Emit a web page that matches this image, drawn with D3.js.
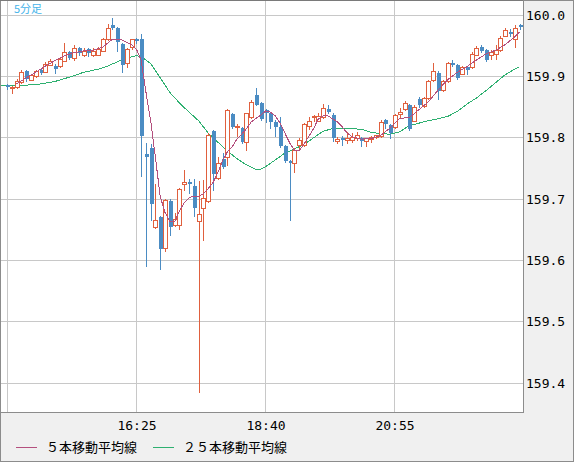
<!DOCTYPE html>
<html>
<head>
<meta charset="utf-8">
<script src="https://cdn.jsdelivr.net/npm/d3@7"></script>
<style>
  body { margin: 0; background: #f0f0f0; }
  svg { display: block; }
</style>
</head>
<body>
<div id="chart"></div>
<script>
// 5分足 USD/JPY style candles, one entry per bar (bar 0 = 14:10)
const openVals = [159.886,159.881,159.883,159.891,159.909,159.895,159.901,159.911,159.908,159.919,
  159.918,159.917,159.926,159.940,159.930,159.947,159.936,159.945,159.936,159.936,
  159.942,159.961,159.984,159.980,159.953,159.922,159.948,159.962,159.962,159.773,
  159.784,159.654,159.671,159.620,159.697,159.658,159.658,159.725,159.728,159.722,
  159.664,159.686,159.697,159.812,159.734,159.766,159.768,159.839,159.817,159.816,
  159.793,159.834,159.870,159.857,159.846,159.840,159.826,159.818,159.787,159.763,
  159.759,159.788,159.789,159.820,159.834,159.828,159.834,159.847,159.838,159.795,
  159.799,159.797,159.797,159.800,159.800,159.795,159.798,159.801,159.803,159.829,
  159.821,159.817,159.839,159.847,159.853,159.828,159.864,159.852,159.865,159.895,
  159.906,159.878,159.892,159.922,159.919,159.905,159.915,159.915,159.936,159.948,
  159.943,159.935,159.937,159.943,159.967,159.973,159.962,159.984];
const highVals = [159.888,159.885,159.896,159.910,159.911,159.904,159.911,159.913,159.923,159.929,
  159.921,159.932,159.954,159.942,159.951,159.949,159.947,159.947,159.947,159.948,
  159.963,159.986,159.996,159.981,159.954,159.946,159.962,159.963,159.970,159.791,
  159.790,159.725,159.673,159.701,159.701,159.678,159.718,159.748,159.733,159.733,
  159.730,159.731,159.808,159.813,159.768,159.775,159.847,159.841,159.823,159.818,
  159.841,159.862,159.881,159.859,159.847,159.842,159.829,159.834,159.788,159.764,
  159.784,159.799,159.824,159.834,159.837,159.840,159.855,159.854,159.841,159.802,
  159.803,159.809,159.808,159.809,159.802,159.800,159.803,159.805,159.829,159.831,
  159.823,159.839,159.849,159.860,159.855,159.854,159.866,159.867,159.895,159.922,
  159.909,159.895,159.924,159.927,159.921,159.917,159.917,159.940,159.950,159.952,
  159.945,159.943,159.952,159.967,159.980,159.977,159.984,159.985];
const lowVals = [159.880,159.873,159.882,159.890,159.893,159.894,159.900,159.905,159.907,159.919,
  159.906,159.916,159.925,159.928,159.927,159.935,159.934,159.933,159.934,159.935,
  159.941,159.960,159.978,159.942,159.908,159.916,159.945,159.954,159.737,159.591,
  159.666,159.653,159.586,159.615,159.642,159.656,159.651,159.715,159.710,159.672,
  159.386,159.634,159.696,159.715,159.733,159.751,159.755,159.816,159.803,159.792,
  159.780,159.833,159.853,159.829,159.826,159.816,159.803,159.785,159.761,159.666,
  159.745,159.784,159.787,159.815,159.827,159.827,159.833,159.840,159.795,159.791,
  159.788,159.792,159.793,159.796,159.787,159.787,159.793,159.800,159.802,159.816,
  159.799,159.816,159.834,159.846,159.813,159.828,159.850,159.850,159.864,159.893,
  159.864,159.877,159.891,159.917,159.896,159.904,159.905,159.914,159.935,159.940,
  159.926,159.929,159.929,159.942,159.966,159.967,159.949,159.978];
const closeVals = [159.883,159.883,159.892,159.908,159.896,159.902,159.909,159.906,159.921,159.925,
  159.913,159.929,159.940,159.930,159.946,159.938,159.942,159.938,159.942,159.945,
  159.961,159.980,159.979,159.957,159.919,159.945,159.961,159.959,159.803,159.768,
  159.692,159.666,159.618,159.698,159.654,159.668,159.716,159.728,159.725,159.685,
  159.676,159.702,159.805,159.741,159.759,159.753,159.846,159.817,159.820,159.793,
  159.840,159.859,159.854,159.830,159.840,159.826,159.817,159.787,159.762,159.761,
  159.781,159.796,159.822,159.827,159.836,159.836,159.848,159.842,159.799,159.798,
  159.796,159.799,159.801,159.804,159.795,159.799,159.802,159.804,159.826,159.822,
  159.808,159.837,159.843,159.857,159.814,159.851,159.853,159.865,159.893,159.909,
  159.876,159.892,159.922,159.919,159.898,159.915,159.911,159.937,159.947,159.941,
  159.927,159.940,159.943,159.963,159.976,159.971,159.980,159.981];

// moving averages: bar index + value
const ma5Bars = [2,4,6,8,10,12,14,16,18,20,22,24,26,27,28,29,30,31,32,33,34,35,36,37,38,39,40,41,42,43,44,45,46,47,48,49,50,51,52,53,54,55,56,57,58,59,60,61,62,63,64,65,66,67,68,69,70,71,72,74,76,78,80,82,84,86,88,90,92,94,96,98,100,102,104,106,107];
const ma5Vals = [159.888,159.898,159.907,159.917,159.926,159.934,159.939,159.942,159.943,159.948,159.961,159.960,159.952,159.945,159.927,159.875,159.828,159.767,159.704,159.678,159.664,159.663,159.681,159.694,159.702,159.705,159.704,159.709,159.717,159.727,159.743,159.762,159.777,159.785,159.798,159.806,159.815,159.826,159.832,159.837,159.844,159.842,159.836,159.824,159.808,159.792,159.780,159.779,159.790,159.802,159.815,159.831,159.836,159.836,159.831,159.826,159.818,159.808,159.802,159.798,159.799,159.804,159.816,159.832,159.833,159.846,159.859,159.878,159.895,159.907,159.916,159.927,159.937,159.943,159.952,159.965,159.973];
const ma25Bars = [-1.5,4,7,10,13,16,19,21,23,25,27,28,29,30,32,34,36,38,40,42,44,46,48,50,52,53,54,56,58,60,62,64,66,68,70,72,74,76,78,80,82,84,86,88,90,92,94,96,98,100,102,104,106,107];
const ma25Vals = [159.886,159.886,159.888,159.892,159.899,159.907,159.912,159.917,159.924,159.930,159.934,159.933,159.927,159.921,159.898,159.874,159.857,159.842,159.828,159.808,159.793,159.779,159.766,159.756,159.748,159.749,159.753,159.764,159.775,159.782,159.789,159.800,159.811,159.815,159.816,159.815,159.814,159.809,159.807,159.806,159.810,159.820,159.824,159.828,159.831,159.835,159.843,159.855,159.865,159.877,159.890,159.903,159.912,159.916];

const priceTicks = [159.4, 159.5, 159.6, 159.7, 159.8, 159.9, 160.0];
const timeTickBars = [0, 27, 54, 81];
const timeTickLabels = ["14:10", "16:25", "18:40", "20:55"];
const legendNames = ["５本移動平均線", "２５本移動平均線"];

const W = 574, H = 462;
const plotR = 523, plotB = 412;
const upColor = "#e0603e", downColor = "#4b8cc3";
const ma5Color = "#b4507e", ma25Color = "#2eb070";

const svg = d3.select("#chart").append("svg")
  .attr("width", W).attr("height", H);

svg.append("rect").attr("width", W).attr("height", H).attr("fill", "#f0f0f0");
svg.append("rect").attr("x", 1).attr("y", 1).attr("width", plotR - 1).attr("height", plotB - 1)
  .attr("fill", "#fff");

const x = d3.scaleLinear().domain([0, 107]).range([7, 519.5]);
const y = d3.scaleLinear().domain([159.4, 160.0]).range([383, 15.3]);

svg.append("defs").append("clipPath").attr("id", "plotclip")
  .append("rect").attr("x", 1).attr("y", 1).attr("width", plotR - 1).attr("height", plotB - 1);

// grid
const grid = svg.append("g").attr("stroke", "#c8c8c8").attr("stroke-width", 1);
grid.selectAll(".hg").data(priceTicks).enter().append("line")
  .attr("x1", 1).attr("x2", plotR)
  .attr("y1", d => Math.floor(y(d)) + 0.5).attr("y2", d => Math.floor(y(d)) + 0.5);
grid.selectAll(".vg").data(timeTickBars).enter().append("line")
  .attr("y1", 1).attr("y2", plotB)
  .attr("x1", d => Math.floor(x(d)) + 0.5).attr("x2", d => Math.floor(x(d)) + 0.5);

const plot = svg.append("g").attr("clip-path", "url(#plotclip)");

// moving averages (drawn under candles)
const line = d3.line().x(d => x(d[0])).y(d => y(d[1]));
plot.append("path").datum(d3.zip(ma25Bars, ma25Vals))
  .attr("d", line).attr("fill", "none").attr("stroke", ma25Color).attr("stroke-width", 1)
  .attr("shape-rendering", "crispEdges");

// candles
const bars = d3.range(openVals.length).map(i => ({
  i: i, o: openVals[i], h: highVals[i], l: lowVals[i], c: closeVals[i]
}));

const candle = plot.selectAll(".candle").data(bars).enter().append("g");
candle.append("line")
  .attr("x1", d => Math.round(x(d.i)) + 0.5).attr("x2", d => Math.round(x(d.i)) + 0.5)
  .attr("y1", d => Math.round(y(d.h))).attr("y2", d => Math.round(y(d.l)) + 1)
  .attr("stroke", d => d.c >= d.o ? upColor : downColor).attr("stroke-width", 1);
candle.each(function(d) {
  const g = d3.select(this);
  const cx = Math.round(x(d.i));
  const top = Math.round(y(Math.max(d.o, d.c)));
  const bot = Math.round(y(Math.min(d.o, d.c)));
  if (d.c >= d.o) {
    g.append("rect")
      .attr("x", cx - 1.5).attr("y", top + 0.5)
      .attr("width", 4).attr("height", Math.max(bot - top, 1))
      .attr("fill", "#fff").attr("stroke", upColor).attr("stroke-width", 1);
  } else {
    g.append("rect")
      .attr("x", cx - 1).attr("y", top)
      .attr("width", 4).attr("height", Math.max(bot - top, 2))
      .attr("fill", downColor);
  }
});

plot.append("path").datum(d3.zip(ma5Bars, ma5Vals))
  .attr("d", line).attr("fill", "none").attr("stroke", ma5Color).attr("stroke-width", 1)
  .attr("shape-rendering", "crispEdges");

// frame
svg.append("line").attr("x1", plotR + 0.5).attr("x2", plotR + 0.5).attr("y1", 0).attr("y2", plotB + 1)
  .attr("stroke", "#8c8c8c");
svg.append("line").attr("x1", 0).attr("x2", plotR + 1).attr("y1", plotB + 0.5).attr("y2", plotB + 0.5)
  .attr("stroke", "#8c8c8c");
svg.append("rect").attr("x", 0.5).attr("y", 0.5).attr("width", W - 1).attr("height", H - 1)
  .attr("fill", "none").attr("stroke", "#8c8c8c");
svg.append("line").attr("x1", 0).attr("x2", plotR).attr("y1", 0.5).attr("y2", 0.5)
  .attr("stroke", "#7a7a7a");

// price labels
svg.selectAll(".plab").data(priceTicks).enter().append("text")
  .attr("x", 526).attr("y", d => Math.floor(y(d)) + 0.5).attr("dy", "0.36em")
  .attr("font-family", "DejaVu Sans Mono, monospace").attr("font-size", 13)
  .attr("fill", "#000").text(d => d.toFixed(1));

// time labels (first one would be cut by the left edge)
svg.selectAll(".tlab").data(timeTickBars.slice(1)).enter().append("text")
  .attr("x", d => Math.floor(x(d)) + 1).attr("y", 430)
  .attr("text-anchor", "middle")
  .attr("font-family", "DejaVu Sans Mono, monospace").attr("font-size", 13)
  .attr("fill", "#000").text((d, k) => timeTickLabels[k + 1]);

// chart title tag
svg.append("text").attr("x", 14).attr("y", 13)
  .attr("font-family", "Noto Sans CJK JP, sans-serif").attr("font-size", 11)
  .attr("fill", "#45b4ea").text("5分足");

// legend
const legendX = [16, 153];
const legendColors = [ma5Color, ma25Color];
const legend = svg.selectAll(".leg").data(legendNames).enter().append("g")
  .attr("transform", (d, k) => "translate(" + legendX[k] + ",447)");
legend.append("line").attr("x1", 0).attr("x2", 21).attr("y1", 0.5).attr("y2", 0.5)
  .attr("stroke", (d, k) => legendColors[k]);
legend.append("text").attr("x", 30).attr("y", 0).attr("dy", "0.38em")
  .attr("font-family", "Noto Sans CJK JP, sans-serif").attr("font-size", 13)
  .attr("fill", "#000").text(d => d);
</script>
</body>
</html>
